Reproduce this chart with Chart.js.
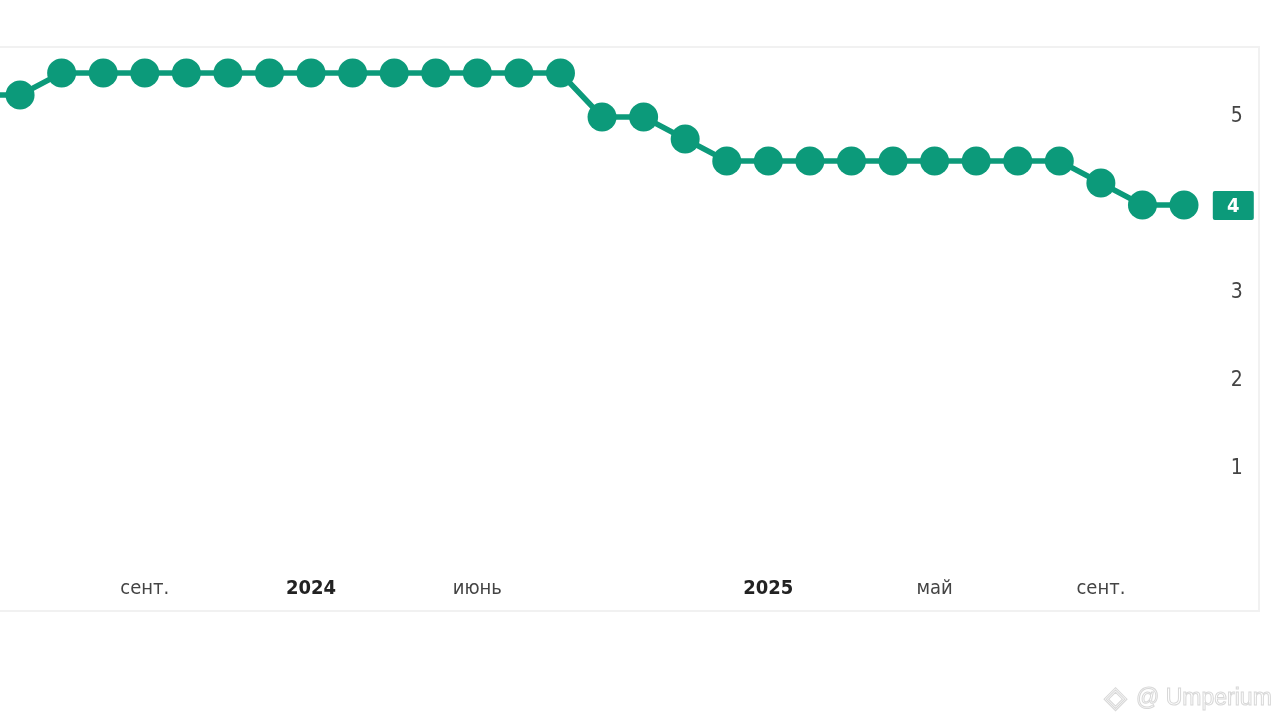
<!DOCTYPE html>
<html>
<head>
<meta charset="utf-8">
<script src="https://cdn.jsdelivr.net/npm/chart.js@4.4.1/dist/chart.umd.min.js"></script>
<style>
    html, body { margin: 0; padding: 0; background: #fff; width: 1280px; height: 720px; overflow: hidden; position: relative; }
    #frame { position: absolute; left: -10px; top: 46px; width: 1270px; height: 566px; box-sizing: border-box; border: 2px solid #f1f1f1; }
    #wrap { position: absolute; left: -40px; top: 0; width: 1320px; height: 720px; }
    #mark { position: absolute; left: 1104px; top: 679px; font: 23px 'Liberation Sans', Arial, sans-serif; color: #fff;
            -webkit-text-stroke: 1px #d8d8d8; white-space: nowrap; }
    #mark b { font-size: 30px; font-weight: normal; margin-right: 9px; vertical-align: -2px; }
</style>
</head>
<body>
<div id="frame"></div>
<div id="wrap"><canvas id="rate-chart"></canvas></div>
<div id="mark"><b>◈</b>@ Umperium</div>
<script>
// one point per period, index 0 sits just off the left edge
const periods = Array.from({ length: 30 }, (_, i) => i);
const rates = [
    5.25, 5.25,
    5.5, 5.5, 5.5, 5.5, 5.5, 5.5, 5.5, 5.5, 5.5, 5.5, 5.5, 5.5, 5.5,
    5.0, 5.0, 4.75, 4.5,
    4.5, 4.5, 4.5, 4.5, 4.5, 4.5, 4.5, 4.5,
    4.25, 4.0, 4.0
];
const xTickPos = [4, 8, 12, 19, 23, 27];
const xTickLabels = ['сент.', '2024', 'июнь', '2025', 'май', 'сент.'];
const yTicks = [1, 2, 3, 4, 5];

const GREEN = '#0c9a7a';
const FONT = "'DejaVu Sans Condensed', 'DejaVu Sans', sans-serif";

const lastValueTag = {
    id: 'lastValueTag',
    afterDraw(chart) {
        const { ctx, scales } = chart;
        const last = rates[rates.length - 1];
        const y = scales.y.getPixelForValue(last);
        const x = scales.y.left + 8;
        ctx.save();
        ctx.fillStyle = GREEN;
        ctx.beginPath();
        ctx.roundRect(x, y - 14, 41, 29, 2);
        ctx.fill();
        ctx.fillStyle = '#fff';
        ctx.font = 'bold 20px ' + FONT;
        ctx.textAlign = 'center';
        ctx.textBaseline = 'middle';
        ctx.fillText(String(last), x + 20.5, y + 1.5);
        ctx.restore();
    }
};

const ctx = document.getElementById('rate-chart').getContext('2d');
new Chart(ctx, {
    type: 'line',
    data: {
        labels: periods,
        datasets: [{
            data: periods.map((p, i) => ({ x: p, y: rates[i] })),
            borderColor: GREEN,
            backgroundColor: GREEN,
            borderWidth: 5.5,
            pointRadius: 14.5,
            pointBorderWidth: 0,
            pointBackgroundColor: GREEN,
            pointHoverRadius: 14.5,
            tension: 0
        }]
    },
    options: {
        responsive: true,
        maintainAspectRatio: false,
        animation: false,
        events: [],
        layout: { autoPadding: false, padding: { left: 18.5, top: 29, right: 0, bottom: 0 } },
        plugins: { legend: { display: false }, tooltip: { enabled: false } },
        scales: {
            x: {
                type: 'linear',
                min: 0,
                max: 29.5,
                grid: { display: false, drawTicks: false },
                border: { display: false },
                afterBuildTicks: axis => { axis.ticks = xTickPos.map(v => ({ value: v })); },
                afterFit: axis => { axis.height = 163; axis.paddingLeft = 0; axis.paddingRight = 0; },
                ticks: {
                    autoSkip: false,
                    maxRotation: 0,
                    padding: 20,
                    callback: v => xTickLabels[xTickPos.indexOf(v)] ?? '',
                    color: c => /^\d{4}$/.test(xTickLabels[c.index]) ? '#222' : '#444',
                    font: c => ({ family: FONT, size: 20, weight: /^\d{4}$/.test(xTickLabels[c.index]) ? 'bold' : 'normal' })
                }
            },
            y: {
                position: 'right',
                min: 0,
                max: 6,
                grid: { display: false, drawTicks: false },
                border: { display: false },
                afterBuildTicks: axis => { axis.ticks = yTicks.map(v => ({ value: v })); },
                afterFit: axis => { axis.width = 75.2; axis.paddingTop = 0; axis.paddingBottom = 0; },
                ticks: {
                    padding: 26,
                    color: '#444',
                    font: { family: FONT, size: 21 }
                }
            }
        }
    },
    plugins: [lastValueTag]
});
</script>
</body>
</html>
